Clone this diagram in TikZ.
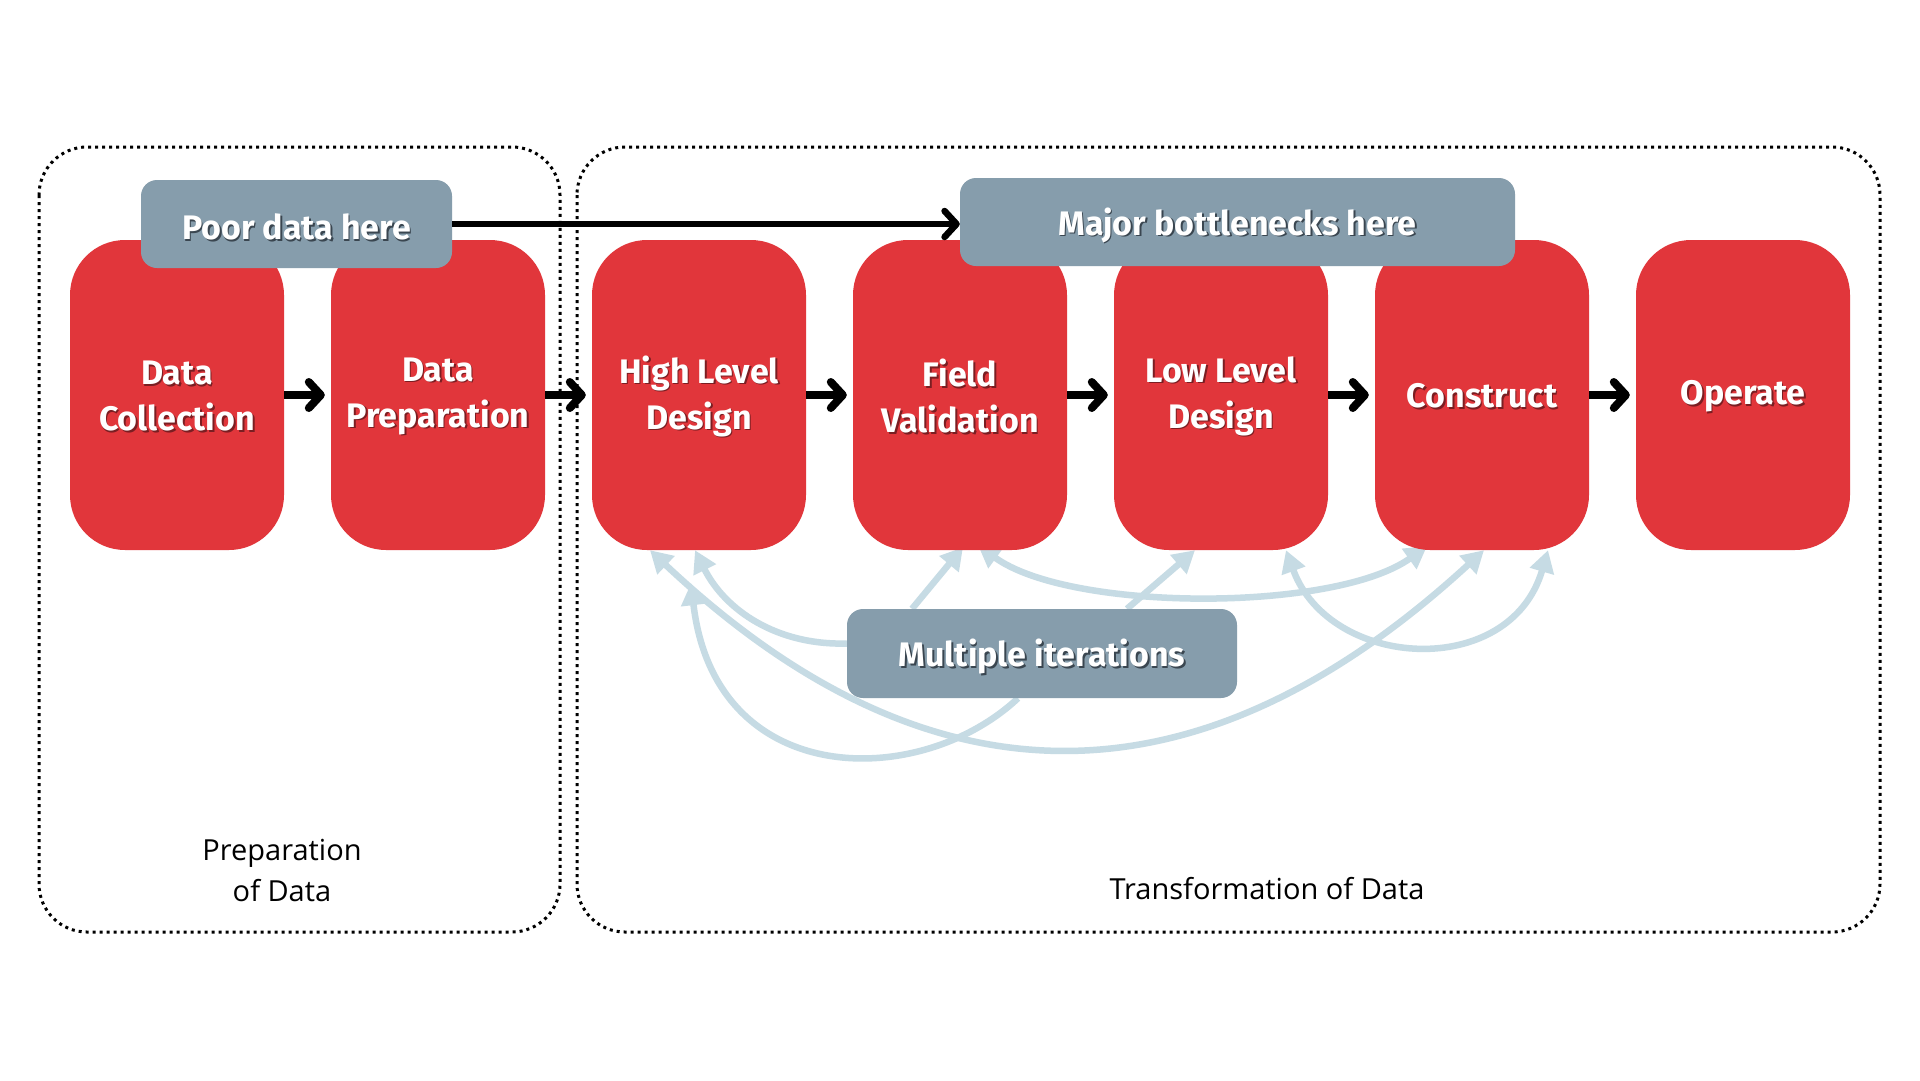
\documentclass[tikz,border=0pt]{standalone}
\usepackage{fontspec}
\usetikzlibrary{arrows.meta}
\newfontfamily\boxfont{Fira Sans}
\newfontfamily\labfont{Open Sans}
\definecolor{boxred}{HTML}{E1363B}
\definecolor{boxgray}{HTML}{869DAC}
\definecolor{iterblue}{HTML}{C6DBE4}
\definecolor{redsh}{HTML}{7A1E22}
\definecolor{graysh}{HTML}{3A4650}
\newcommand\shd[2]{\raisebox{-2pt}[\height][\depth]{\rlap{\kern1.6pt\raisebox{-1.6pt}{\textcolor{#1}{#2}}}#2}}
\newcommand\shn[2]{\raisebox{-4pt}[\height][\depth]{\rlap{\kern1.6pt\raisebox{-1.6pt}{\textcolor{#1}{#2}}}#2}}
\pgfdeclarelayer{paper}
\pgfdeclarelayer{back}
\pgfsetlayers{paper,back,main}
\begin{document}
\begin{tikzpicture}[x=1pt,y=-1pt,
  stage/.style={fill=boxred, rounded corners=55pt, minimum width=214pt, minimum height=310pt,
    inner sep=0pt, text=white, align=center, font=\boxfont\bfseries\fontsize{34}{46}\selectfont},
  note/.style={fill=boxgray, rounded corners=16pt, inner sep=0pt, text=white, align=center,
    font=\boxfont\bfseries\fontsize{34}{46}\selectfont},
  flow/.style={line width=8pt, -{Straight Barb[length=12pt,width=26pt,round]}},
  itip/.tip={Triangle[length=22pt,width=24pt]},
  iter/.style={draw=iterblue, line width=6.5pt, -itip},
  iterboth/.style={draw=iterblue, line width=6.5pt, itip-itip},
  frame/.style={line width=3pt, dash pattern=on 3pt off 4pt, rounded corners=48pt},
  lab/.style={font=\labfont\fontsize{29}{41}\selectfont, align=center, text=black}
]
\begin{pgfonlayer}{paper}
\fill[white] (0,0) rectangle (1920,1080);
\end{pgfonlayer}
\useasboundingbox (0,0) rectangle (1920,1080);

% frames
\draw[frame] (39,147) rectangle (560,932);
\draw[frame] (577,147) rectangle (1880,932);

% stages
\node[stage] (dc)  at (177,395)  {\shd{redsh}{Data}\\\shd{redsh}{Collection}};
\node[stage] (dp)  at (438,395)  {\shd{redsh}{Data}\\\shd{redsh}{Preparation}};
\node[stage] (hld) at (699,395)  {\shd{redsh}{High Level}\\\shd{redsh}{Design}};
\node[stage] (fv)  at (960,395)  {\shd{redsh}{Field}\\\shd{redsh}{Validation}};
\node[stage] (lld) at (1221,395) {\shd{redsh}{Low Level}\\\shd{redsh}{Design}};
\node[stage] (con) at (1482,395) {\shd{redsh}{Construct}};
\node[stage] (op)  at (1743,395) {\shd{redsh}{Operate}};

% notes
\node[note, minimum width=311pt, minimum height=88pt] (poor) at (296.5,224) {\shn{graysh}{Poor data here}};
\node[note, minimum width=555pt, minimum height=88pt] (major) at (1237.5,222) {\shn{graysh}{Major bottlenecks here}};
\node[note, minimum width=390pt, minimum height=89pt] (mi) at (1042,653.5) {\shn{graysh}{Multiple iterations}};

% labels
\node[lab] (prepl) at (282,870) {Preparation\\of Data};
\node[lab] (transl) at (1267,889) {Transformation of Data};

% flow arrows
\draw[flow] (dc.east) -- ([xshift=-6pt]dp.west);
\draw[flow] (dp.east) -- ([xshift=-6pt]hld.west);
\draw[flow] (hld.east) -- ([xshift=-6pt]fv.west);
\draw[flow] (fv.east) -- ([xshift=-6pt]lld.west);
\draw[flow] (lld.east) -- ([xshift=-6pt]con.west);
\draw[flow] (con.east) -- ([xshift=-6pt]op.west);
\draw[line width=6.5pt, -{Straight Barb[length=12pt,width=26pt,round]}] (poor.east) -- (poor.east -| major.west);

% iteration curves
\begin{pgfonlayer}{back}
\draw[iter] ([yshift=10pt]mi.west) .. controls +(-70,2) and +(30,60) .. ([xshift=-4pt]hld.south);
\draw[iter] ([xshift=-130pt]mi.north) -- ([xshift=3pt,yshift=3pt]fv.south);
\draw[iter] ([xshift=85pt]mi.north) -- ([xshift=-26pt]lld.south);
\draw[iter] ([xshift=-24pt]mi.south) .. controls +(-98,92) and +(24,207) .. ([xshift=-8pt,yshift=-33pt]hld.south);
\draw[iterboth] ([xshift=-49pt]hld.south) .. controls +(255,240) and +(-310,285) .. ([xshift=2pt]con.south);
\draw[iterboth] ([xshift=18pt,yshift=5pt]fv.south) .. controls +(92,67) and +(-92,66) .. ([xshift=-55pt,yshift=4pt]con.south);
\draw[iterboth] ([xshift=65pt]lld.south) .. controls +(44,120) and +(-38,130) .. ([xshift=66pt]con.south);
\end{pgfonlayer}
\end{tikzpicture}
\end{document}
